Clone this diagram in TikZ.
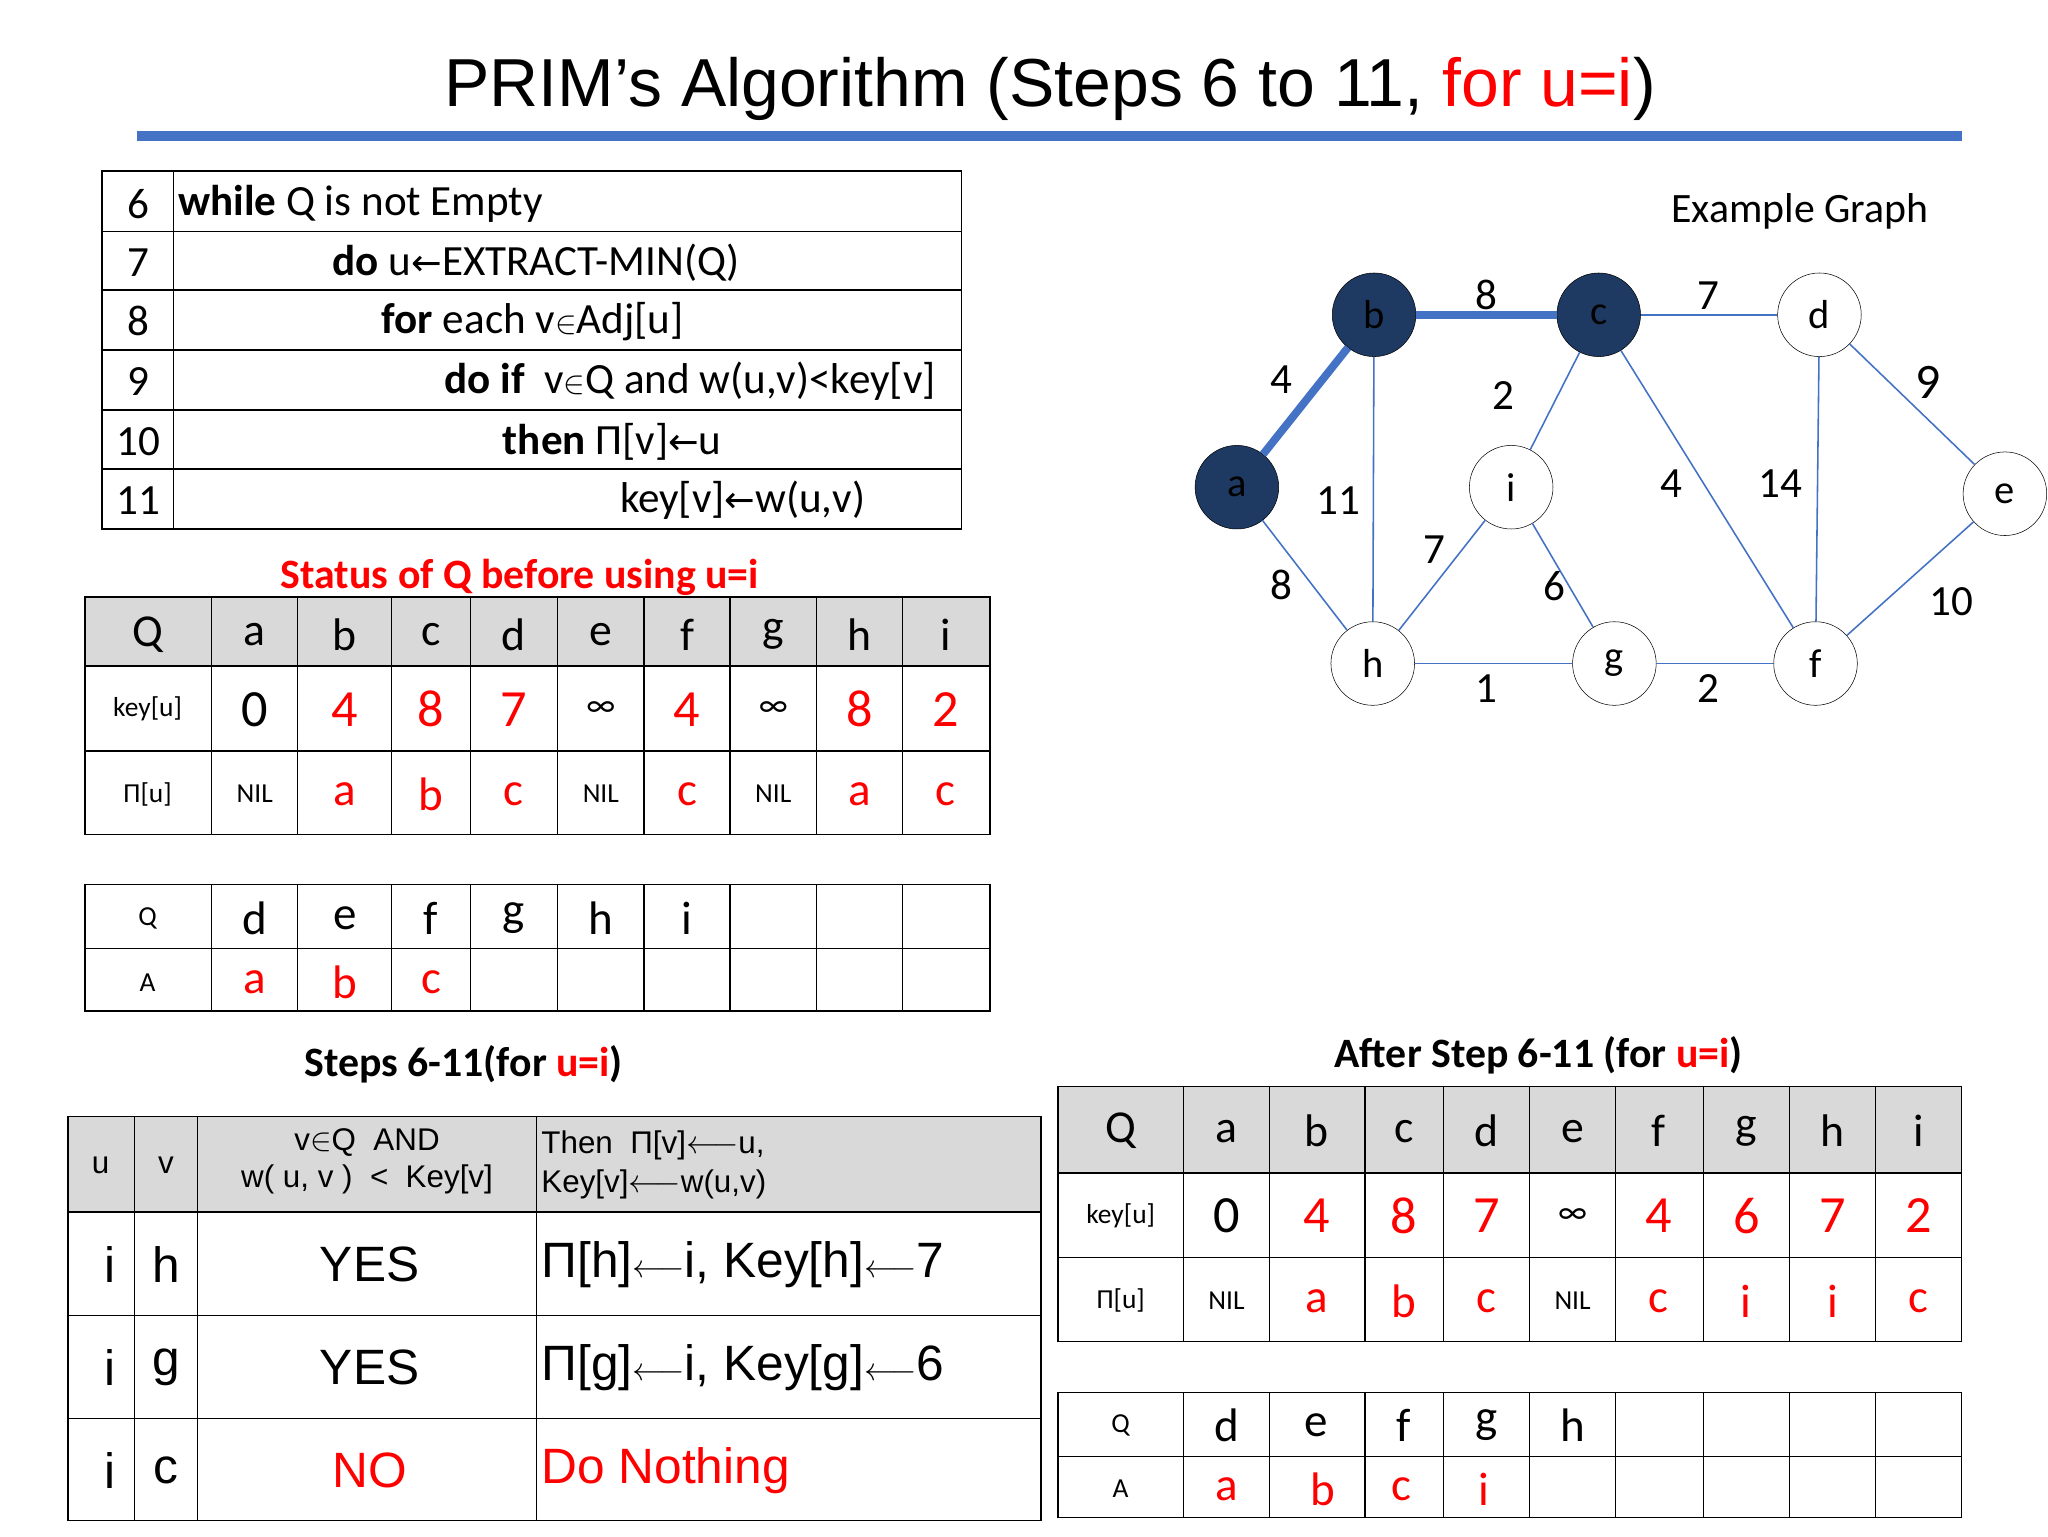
\documentclass[tikz,border=0pt]{standalone}
\usepackage{fontspec}
\setmainfont{Carlito}
\newfontfamily\arial{Liberation Sans}
\newfontfamily\dejavu{DejaVu Sans}
\begin{document}
\begin{tikzpicture}[x=1pt,y=-1pt,
  gv/.style={circle,draw=black,fill=white,minimum size=64pt,inner sep=0pt,font=\fontsize{31}{33}\selectfont},
  gvs/.style={gv,fill=nodeblue,draw=black},
  ed/.style={draw=edgeblue,line width=1.2pt},
  edt/.style={draw=edgeblue,line width=6pt},
  wl/.style={font=\fontsize{33}{35}\selectfont},
  tl/.style={draw=black,line width=1pt},
  hd/.style={font=\fontsize{35}{37}\selectfont},
  rv/.style={text=red,font=\fontsize{40}{42}\selectfont},
  sm/.style={font=\fontsize{21}{23}\selectfont},
  bv/.style={font=\fontsize{36}{38}\selectfont}]
\definecolor{nodeblue}{RGB}{30,58,98}
\definecolor{edgeblue}{RGB}{68,114,196}
\definecolor{hdgray}{RGB}{217,217,217}
\newcommand{\la}{{\dejavu\fontsize{28}{30}\selectfont ←}}
\newcommand{\lla}{\ensuremath{\longleftarrow}}
\useasboundingbox[fill=white] (0,0) rectangle (1568,1176);
% title
\node[font=\arial\fontsize{52}{54}\selectfont] (title) at (804,68) {PRIM’s Algorithm (Steps 6 to 11, \textcolor{red}{for u=i})};
\fill[edgeblue] (105,100) rectangle (1502,108);
% pseudocode
\draw[tl] (78,131) rectangle (736,405);
\foreach \y in {177,222,268,314,359} \draw[tl] (78,\y) -- (736,\y);
\draw[tl] (133,131) -- (133,405);
\foreach \n/\y in {6/156,7/201,8/246,9/292,10/338,11/383} \node[wl] (ln\n) at (106,\y) {\n};
\node[wl,anchor=west] (p6) at (133,156) {\textbf{while} Q is not Empty};
\node[wl,anchor=east] (p7) at (570,201) {\textbf{do} u\la EXTRACT-MIN(Q)};
\node[wl,anchor=east] (p8) at (527,246) {\textbf{for} each v\ensuremath{\in}Adj[u]};
\node[wl,anchor=east] (p9) at (720,292) {\textbf{do if}\ \ v\ensuremath{\in}Q and w(u,v)<key[v]};
\node[wl,anchor=east] (p10) at (556,338) {\textbf{then} Π[v]\la u};
\node[wl,anchor=east] (p11) at (666,383) {key[v]\la w(u,v)};
% status label
\node[text=red,font=\bfseries\fontsize{32}{34}\selectfont] (stat) at (398,442) {Status of Q before using u=i};
% table 1
\fill[hdgray] (65,457) rectangle (758,510);
\draw[tl] (65,457) rectangle (758,639);
\draw[tl] (65,510) -- (758,510); \draw[tl] (65,575) -- (758,575);
\foreach \x in {162,228,300,360,427,493,559,625,691} \draw[tl] (\x,457) -- (\x,639);
\foreach \t/\x in {Q/113,a/195,b/264,c/330,d/393,e/460,f/526,g/592,h/658,i/724} \node[hd] (h1\t) at (\x,486) {\t};
\node[sm] (k1) at (113,543) {key[u]};
\node[sm] (p1) at (113,608) {Π[u]};
\node[rv,text=black] (k1a) at (195,543) {0};
\foreach \t/\x/\n in {4/264/b,8/330/c,7/393/d,4/526/f,8/658/h,2/724/i} \node[rv] (k1\n) at (\x,543) {\t};
\foreach \x/\n in {460/e,592/g} \node[font=\fontsize{26}{28}\selectfont] (k1\n) at (\x,543) {∞};
\foreach \x/\n in {195/a,460/e,592/g} \node[sm] (p1\n) at (\x,608) {NIL};
\foreach \t/\x/\n in {a/264/b,b/330/c,c/393/d,c/526/f,a/658/h,c/724/i} \node[rv,font=\fontsize{36}{38}\selectfont] (p1\n) at (\x,608) {\t};
% table 2
\draw[tl] (65,677) rectangle (758,774);
\draw[tl] (65,726) -- (758,726);
\foreach \x in {162,228,300,360,427,493,559,625,691} \draw[tl] (\x,677) -- (\x,774);
\node[sm] (q2) at (113,703) {Q};
\node[sm] (a2) at (113,752) {A};
\foreach \t/\x in {d/195,e/264,f/330,g/393,h/460,i/526} \node[bv] (q2\t) at (\x,703) {\t};
\foreach \t/\x in {a/195,b/264,c/330} \node[bv,text=red] (a2\t) at (\x,752) {\t};
% steps label
\node[font=\bfseries\fontsize{32}{34}\selectfont] (steps) at (355,815) {Steps 6-11(for \textcolor{red}{u=i})};
% table 3
\fill[hdgray] (52,855) rectangle (797,928);
\draw[tl] (52,855) rectangle (797,1164);
\foreach \y in {928,1007,1086} \draw[tl] (52,\y) -- (797,\y);
\foreach \x in {103,151,411} \draw[tl] (\x,855) -- (\x,1164);
\node[font=\arial\fontsize{24}{26}\selectfont] (hu) at (77,892) {u};
\node[font=\arial\fontsize{24}{26}\selectfont] (hv) at (127,892) {v};
\node[font=\arial\fontsize{24}{28}\selectfont,align=center] (hc) at (281,889) {v\ensuremath{\in}Q\ \ AND\\w( u, v )\ \ <\ \ Key[v]};
\node[font=\arial\fontsize{24}{30}\selectfont,align=left,anchor=west] (ht) at (411,892) {Then\ \ Π[v]\lla u,\\Key[v]\lla w(u,v)};
\foreach \r/\y/\v/\c/\cc/\tt in {1/968/h/YES/black/{Π[h]\lla i, Key[h]\lla 7},2/1047/g/YES/black/{Π[g]\lla i, Key[g]\lla 6},3/1126/c/NO/red/{\textcolor{red}{Do Nothing}}}{
  \node[font=\arial\fontsize{38}{40}\selectfont] (ru\r) at (84,\y) {i};
  \node[font=\arial\fontsize{38}{40}\selectfont] (rv\r) at (127,\y) {\v};
  \node[font=\arial\fontsize{38}{40}\selectfont,text=\cc] (rc\r) at (283,\y) {\c};
  \node[font=\arial\fontsize{38}{40}\selectfont,anchor=west] (rt\r) at (411,\y) {\tt};
}
% after label
\node[font=\bfseries\fontsize{32}{34}\selectfont] (after) at (1178,808) {After Step 6-11 (for \textcolor{red}{u=i})};
% table 4
\fill[hdgray] (810,832) rectangle (1502,898);
\draw[tl] (810,832) rectangle (1502,1027);
\draw[tl] (810,898) -- (1502,898); \draw[tl] (810,963) -- (1502,963);
\foreach \x in {906,972,1045,1105,1171,1237,1304,1370,1436} \draw[tl] (\x,832) -- (\x,1027);
\foreach \t/\x in {Q/858,a/939,b/1008,c/1075,d/1138,e/1204,f/1270,g/1337,h/1403,i/1469} \node[hd] (h4\t) at (\x,866) {\t};
\node[sm] (k4) at (858,931) {key[u]};
\node[sm] (p4) at (858,996) {Π[u]};
\node[rv,text=black] (k4a) at (939,931) {0};
\foreach \t/\x/\n in {4/1008/b,8/1075/c,7/1138/d,4/1270/f,6/1337/g,7/1403/h,2/1469/i} \node[rv] (k4\n) at (\x,931) {\t};
\node[font=\fontsize{26}{28}\selectfont] (k4e) at (1204,931) {∞};
\foreach \x/\n in {939/a,1204/e} \node[sm] (p4\n) at (\x,996) {NIL};
\foreach \t/\x/\n in {a/1008/b,b/1075/c,c/1138/d,c/1270/f,i/1337/g,i/1403/h,c/1469/i} \node[rv,font=\fontsize{36}{38}\selectfont] (p4\n) at (\x,996) {\t};
% table 5
\draw[tl] (810,1066) rectangle (1502,1162);
\draw[tl] (810,1115) -- (1502,1115);
\foreach \x in {906,972,1045,1105,1171,1237,1304,1370,1436} \draw[tl] (\x,1066) -- (\x,1162);
\node[sm] (q5) at (858,1091) {Q};
\node[sm] (a5) at (858,1140) {A};
\foreach \t/\x in {d/939,e/1008,f/1075,g/1138,h/1204} \node[bv] (q5\t) at (\x,1091) {\t};
\foreach \t/\x in {a/939,b/1013,c/1073,i/1136} \node[bv,text=red] (a5\t) at (\x,1140) {\t};
% graph
\node[font=\fontsize{32}{34}\selectfont] (eg) at (1378,162) {Example Graph};
\node[gvs] (a) at (947,373) {a};
\node[gvs] (b) at (1052,241) {b};
\node[gvs] (c) at (1224,241) {c};
\node[gv] (d) at (1393,241) {d};
\node[gv] (e) at (1535,378) {e};
\node[gv] (i) at (1157,373) {i};
\node[gv] (h) at (1051,508) {h};
\node[gv] (g) at (1236,508) {g};
\node[gv] (f) at (1390,508) {f};
\draw[edt] (a) -- (b);
\draw[edt] (b) -- (c);
\foreach \u/\v in {c/d,d/e,a/h,b/h,c/i,c/f,d/f,e/f,i/h,i/g,h/g,g/f} \draw[ed] (\u) -- (\v);
\foreach \t/\x/\y/\n in {4/981/291/w1,8/1138/226/w2,7/1308/226/w3,2/1151/303/w4,11/1025/383/w5,4/1280/370/w6,14/1363/370/w7,7/1098/421/w8,6/1190/449/w9,8/981/448/w10,10/1494/461/w11,1/1138/527/w12,2/1308/527/w13}
  \node[wl] (\n) at (\x,\y) {\t};
\node[font=\fontsize{38}{40}\selectfont] (w14) at (1476,293) {9};
\end{tikzpicture}
\end{document}
